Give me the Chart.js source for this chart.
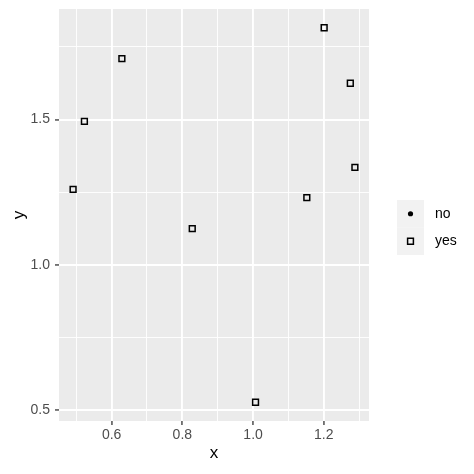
<!DOCTYPE html>
<html>
<head>
<meta charset="utf-8">
<script src="https://cdn.jsdelivr.net/npm/chart.js@4.4.1/dist/chart.umd.min.js"></script>
<style>
  html, body { margin: 0; padding: 0; background: #fff; }
  #wrap { width: 474px; height: 474px; position: relative; }
</style>
</head>
<body>
<div id="wrap"><canvas id="scatterChart"></canvas></div>
<script>
// dados
const legendLabels = ['no', 'yes'];
const xYes = [0.491, 0.523, 0.629, 0.828, 1.007, 1.152, 1.201, 1.275, 1.288];
const yYes = [1.260, 1.494, 1.710, 1.125, 0.528, 1.232, 1.816, 1.625, 1.336];
const xNo = [];
const yNo = [];
const xTicks = [0.6, 0.8, 1.0, 1.2];
const xTickLabels = ['0.6', '0.8', '1.0', '1.2'];
const xMinor = [0.5, 0.7, 0.9, 1.1, 1.3];
const yTicks = [0.5, 1.0, 1.5];
const yTickLabels = ['0.5', '1.0', '1.5'];
const yMinor = [0.75, 1.25, 1.75];

const FONT = "'Liberation Sans', Arial, sans-serif";

// limites como no ggplot (expansão de 5%)
function expand(vals) {
    const lo = Math.min(...vals), hi = Math.max(...vals);
    const pad = (hi - lo) * 0.05;
    return [lo - pad, hi + pad];
}
const [xMin, xMax] = expand(xYes.concat(xNo));
const [yMin, yMax] = expand(yYes.concat(yNo));

function isMajor(list, v) {
    return list.some(t => Math.abs(t - v) < 1e-9);
}
function labelFor(list, labels, v) {
    const i = list.findIndex(t => Math.abs(t - v) < 1e-9);
    return i >= 0 ? labels[i] : '';
}

// fundo cinza do painel + legenda
const panelPlugin = {
    id: 'panel',
    beforeDraw(chart) {
        const { ctx, chartArea: a } = chart;
        ctx.save();
        ctx.fillStyle = '#EBEBEB';
        ctx.fillRect(a.left, a.top, a.right - a.left, a.bottom - a.top);
        ctx.restore();
    },
    afterDraw(chart) {
        const { ctx } = chart;
        const boxX = 397, boxW = 27, boxH = 27.5, startY = 200;
        ctx.save();
        chart.data.datasets.forEach((ds, i) => {
            const y = startY + i * boxH;
            ctx.fillStyle = '#F2F2F2';
            ctx.fillRect(boxX, y, boxW, boxH);
            ctx.fillStyle = ds.backgroundColor;
            ctx.strokeStyle = ds.borderColor;
            ctx.lineWidth = ds.borderWidth;
            Chart.helpers.drawPoint(ctx, {
                pointStyle: ds.pointStyle,
                radius: ds.legendRadius,
                borderWidth: ds.borderWidth,
                rotation: 0
            }, boxX + boxW / 2, y + boxH / 2);
            ctx.fillStyle = '#000';
            ctx.font = '14px ' + FONT;
            ctx.textAlign = 'left';
            ctx.textBaseline = 'middle';
            ctx.fillText(ds.label, 435, y + boxH / 2);
        });
        ctx.restore();
    }
};

function buildPoints(xs, ys) {
    return xs.map((x, i) => ({ x: x, y: ys[i] }));
}

const ctx = document.getElementById('scatterChart').getContext('2d');
new Chart(ctx, {
    type: 'scatter',
    data: {
        datasets: [
            {
                label: legendLabels[0],
                data: buildPoints(xNo, yNo),
                pointStyle: 'circle',
                backgroundColor: '#000',
                borderColor: '#000',
                borderWidth: 0,
                pointRadius: 2.6,
                legendRadius: 2.6
            },
            {
                label: legendLabels[1],
                data: buildPoints(xYes, yYes),
                pointStyle: 'rect',
                backgroundColor: 'rgba(0,0,0,0)',
                borderColor: '#000',
                borderWidth: 1.5,
                pointRadius: 4.1,
                pointHoverRadius: 4.1,
                legendRadius: 4.1
            }
        ]
    },
    options: {
        responsive: true,
        maintainAspectRatio: false,
        animation: false,
        layout: { padding: { left: 0, top: 9, right: 105, bottom: 0 } },
        plugins: {
            legend: { display: false },
            tooltip: { enabled: false }
        },
        scales: {
            x: {
                type: 'linear',
                min: xMin,
                max: xMax,
                afterBuildTicks(scale) {
                    scale.ticks = xTicks.concat(xMinor).sort((a, b) => a - b).map(v => ({ value: v }));
                },
                afterFit(scale) {
                    scale.height = 53;
                    scale.paddingLeft = 0;
                    scale.paddingRight = 0;
                },
                border: { display: false },
                grid: {
                    color: '#FFFFFF',
                    lineWidth: c => (c.tick && isMajor(xTicks, c.tick.value)) ? 1.9 : 0.9,
                    drawTicks: true,
                    tickLength: 4,
                    tickWidth: 1.3,
                    tickColor: c => (c.tick && isMajor(xTicks, c.tick.value)) ? '#333333' : 'rgba(0,0,0,0)'
                },
                ticks: {
                    autoSkip: false,
                    maxRotation: 0,
                    padding: 2,
                    color: '#4D4D4D',
                    font: { family: FONT, size: 14 },
                    callback: v => labelFor(xTicks, xTickLabels, v)
                },
                title: {
                    display: true,
                    text: 'x',
                    color: '#000',
                    font: { family: FONT, size: 17 },
                    padding: { top: 0, bottom: 10 }
                }
            },
            y: {
                type: 'linear',
                min: yMin,
                max: yMax,
                afterBuildTicks(scale) {
                    scale.ticks = yTicks.concat(yMinor).sort((a, b) => a - b).map(v => ({ value: v }));
                },
                afterFit(scale) {
                    scale.width = 59;
                    scale.paddingTop = 0;
                    scale.paddingBottom = 0;
                },
                border: { display: false },
                grid: {
                    color: '#FFFFFF',
                    lineWidth: c => (c.tick && isMajor(yTicks, c.tick.value)) ? 1.9 : 0.9,
                    drawTicks: true,
                    tickLength: 4,
                    tickWidth: 1.3,
                    tickColor: c => (c.tick && isMajor(yTicks, c.tick.value)) ? '#333333' : 'rgba(0,0,0,0)'
                },
                ticks: {
                    autoSkip: false,
                    padding: 5,
                    color: '#4D4D4D',
                    font: { family: FONT, size: 14 },
                    callback: v => labelFor(yTicks, yTickLabels, v)
                },
                title: {
                    display: true,
                    text: 'y',
                    color: '#000',
                    font: { family: FONT, size: 17 },
                    padding: { top: 9, bottom: 0 }
                }
            }
        }
    },
    plugins: [panelPlugin]
});
</script>
</body>
</html>
